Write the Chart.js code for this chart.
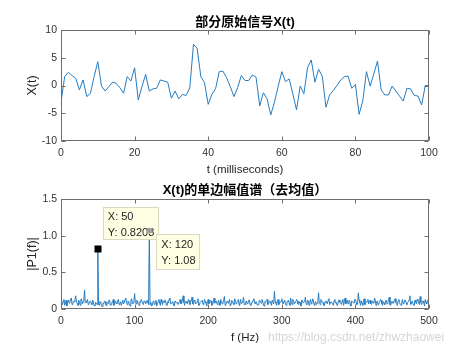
<!DOCTYPE html>
<html>
<head>
<meta charset="utf-8">
<script src="https://cdn.jsdelivr.net/npm/chart.js@4.4.1/dist/chart.umd.min.js"></script>
<style>
  html, body { margin: 0; padding: 0; background: #fff; }
  #wrap { position: relative; width: 474px; height: 355px; overflow: hidden; background: #fff; }
  #c1 { position: absolute; left: 0; top: 0; }
  #c2 { position: absolute; left: 0; top: 180px; }
  #wm { position: absolute; left: 268px; top: 330px; font: 12px "Liberation Sans", Arial, sans-serif; color: #d6d6d6; white-space: nowrap; }
</style>
</head>
<body>
<div id="wrap">
  <canvas id="c1" width="474" height="180"></canvas>
  <canvas id="c2" width="474" height="175"></canvas>
  <div id="wm">https://blog.csdn.net/zhwzhaowei</div>
</div>
<script>
// ---------- data ----------
const topTitle = '部分原始信号X(t)';
const bottomTitle = 'X(t)的单边幅值谱（去均值）';
const topXLabel = 't (milliseconds)';
const topYLabel = 'X(t)';
const bottomXLabel = 'f (Hz)';
const bottomYLabel = '|P1(f)|';

// signal samples, one per millisecond, t = 0..100
const signalValues = [
  -3.0, 1.6, 2.4, 1.8, 1.3, -0.8, 1.0, -2.0, -1.4, 1.6,
  4.3, -0.1, -1.0, -0.2, 0.6, 0.4, -0.4, -1.4, 1.6, 0.8,
  3.2, -2.6, -0.2, 2.0, -1.0, -0.6, -0.5, 1.0, 0.8, 0.6,
  -2.3, -1.0, -2.4, -1.6, -1.8, -0.4, 7.4, 6.7, 1.6, 0.5,
  -3.4, -1.6, -0.6, 2.5, 2.6, 1.4, -0.2, -2.0, -0.4, 1.8,
  0.9, 0.9, 1.9, 1.5, -3.7, -1.3, -2.4, -5.3, -3.0, -0.2,
  2.5, 0.7, 1.2, -1.5, -4.4, -0.1, -1.5, 3.2, 4.6, 0.6,
  2.9, 1.7, -3.9, -1.7, -0.9, 0.0, 1.0, 1.6, 1.7, -0.5,
  0.2, -5.2, -2.8, 2.5, -0.1, 2.1, 4.4, -0.8, -1.7, -1.7,
  -0.1, -1.0, -1.9, -2.8, -0.5, -0.6, -1.8, -1.9, -3.5, 0.0,
  0.0
];
const signalStepMs = 1;

// single-sided amplitude spectrum, one value per Hz, f = 0..500
const spectrumValues = [
  .11,.07,.06,.10,.13,.05,.08,.12,.04,.09,
  .12,.08,.09,.14,.15,.06,.07,.11,.10,.13,
  .18,.09,.08,.05,.12,.10,.05,.13,.14,.07,
  .10,.12,.26,.08,.09,.11,.13,.06,.07,.10,
  .11,.08,.06,.12,.10,.05,.04,.09,.08,.06,
  .8203,.07,.05,.10,.09,.04,.03,.08,.07,.11,
  .10,.06,.04,.09,.08,.12,.12,.05,.06,.09,
  .09,.13,.05,.07,.11,.08,.07,.12,.13,.06,
  .08,.10,.05,.09,.12,.07,.09,.13,.15,.08,
  .06,.11,.10,.05,.04,.12,.14,.07,.08,.10,
  .21,.09,.07,.12,.11,.06,.05,.10,.09,.13,
  .13,.08,.06,.11,.10,.07,.08,.12,.12,.06,
  1.08,.06,.09,.04,.05,.10,.11,.06,.07,.12,
  .04,.08,.10,.13,.08,.05,.13,.09,.06,.11,
  .09,.12,.12,.06,.05,.10,.08,.14,.15,.07,
  .07,.09,.10,.05,.04,.11,.11,.08,.09,.06,
  .06,.10,.13,.07,.08,.12,.18,.09,.05,.11,
  .10,.08,.07,.13,.12,.06,.09,.11,.16,.07,
  .06,.12,.11,.07,.08,.10,.14,.05,.05,.09,
  .09,.11,.12,.06,.07,.13,.10,.08,.04,.09,
  .13,.07,.08,.12,.11,.05,.06,.10,.15,.08,
  .09,.11,.07,.06,.12,.09,.05,.13,.10,.07,
  .08,.12,.17,.05,.06,.10,.11,.08,.09,.13,
  .04,.07,.12,.10,.08,.06,.14,.11,.07,.09,
  .10,.13,.05,.08,.13,.07,.09,.11,.16,.06,
  .06,.10,.11,.07,.08,.12,.12,.06,.05,.09,
  .09,.12,.14,.08,.07,.10,.10,.05,.06,.11,
  .12,.09,.08,.13,.11,.05,.04,.10,.09,.12,
  .13,.06,.07,.11,.10,.08,.05,.12,.12,.07,
  .24,.10,.08,.05,.11,.13,.06,.09,.09,.11,
  .14,.08,.07,.11,.12,.06,.05,.10,.10,.12,
  .08,.05,.15,.09,.06,.13,.11,.07,.09,.10,
  .13,.11,.07,.06,.10,.09,.04,.12,.12,.08,
  .08,.10,.16,.07,.06,.12,.11,.05,.09,.13,
  .07,.09,.14,.11,.05,.08,.10,.06,.08,.12,
  .22,.07,.06,.13,.12,.09,.09,.05,.05,.10,
  .11,.08,.07,.12,.14,.06,.08,.10,.10,.07,
  .05,.11,.13,.08,.09,.05,.06,.12,.12,.09,
  .08,.06,.11,.13,.05,.10,.15,.07,.09,.12,
  .07,.10,.12,.06,.04,.11,.10,.09,.08,.13,
  .13,.09,.06,.07,.22,.12,.09,.05,.11,.08,
  .05,.12,.14,.06,.08,.10,.10,.13,.07,.09,
  .12,.07,.06,.11,.09,.08,.15,.12,.05,.10,
  .11,.06,.08,.09,.13,.12,.07,.05,.10,.08,
  .06,.11,.12,.07,.09,.13,.16,.06,.05,.10,
  .10,.08,.08,.12,.14,.09,.07,.05,.11,.13,
  .09,.06,.05,.10,.13,.07,.08,.12,.12,.08,
  .06,.09,.10,.13,.18,.06,.07,.11,.11,.05,
  .05,.12,.09,.07,.13,.11,.08,.06,.17,.09,
  .06,.10,.11,.08,.04,.13,.09,.07,.12,.10,
  .08
];
const spectrumStepHz = 1;

// data tips
const tipFreqs = [50, 120];
const tipAmps = ['0.8203', '1.08'];

// tick labels
const topXTicks = [0, 20, 40, 60, 80, 100];
const topYTicks = [-10, -5, 0, 5, 10];
const bottomXTicks = [0, 100, 200, 300, 400, 500];
const bottomYTicks = [0, 0.5, 1, 1.5];

// ---------- helpers ----------
const LINE = 'rgb(36,124,194)';
const TICKCOL = '#333333';
const FONT = '"Liberation Sans", Arial, "Noto Sans CJK SC", sans-serif';

const boxPlugin = {
  id: 'matlabBox',
  afterDraw(chart, args, opts) {
    const { ctx, chartArea: a, scales } = chart;
    ctx.save();
    const L = Math.round(a.left) + 0.5, R = Math.round(a.right) - 0.5;
    const T = Math.round(a.top) + 0.5, B = Math.round(a.bottom) - 0.5;
    ctx.strokeStyle = '#6e6e6e';
    ctx.lineWidth = 1;
    ctx.strokeRect(L, T, R - L, B - T);
    const len = 4;
    ctx.beginPath();
    scales.x.ticks.forEach(t => {
      const px = Math.round(scales.x.getPixelForValue(t.value)) + 0.5;
      ctx.moveTo(px, B); ctx.lineTo(px, B - len);
      ctx.moveTo(px, T); ctx.lineTo(px, T + len);
    });
    scales.y.ticks.forEach(t => {
      const py = Math.round(scales.y.getPixelForValue(t.value)) + 0.5;
      ctx.moveTo(L, py); ctx.lineTo(L + len, py);
      ctx.moveTo(R, py); ctx.lineTo(R - len, py);
    });
    ctx.stroke();
    ctx.fillStyle = '#000';
    ctx.font = 'bold 13px "Liberation Sans", "Noto Sans CJK SC", sans-serif';
    ctx.textAlign = 'center';
    ctx.textBaseline = 'middle';
    ctx.fillText(opts.text, (a.left + a.right) / 2, a.top - opts.offset);
    ctx.restore();
  }
};

function drawTip(ctx, x, y, lines, h, off) {
  ctx.font = '11px ' + FONT;
  const w = Math.max(...lines.map(l => ctx.measureText(l).width)) + 10;
  ctx.fillStyle = 'rgba(255,255,226,0.97)';
  ctx.fillRect(x, y, w, h);
  ctx.strokeStyle = '#d9d9c4';
  ctx.lineWidth = 1;
  ctx.strokeRect(Math.round(x) + 0.5, Math.round(y) + 0.5, Math.round(w) - 1, h - 1);
  ctx.fillStyle = '#1e1e1e';
  ctx.textAlign = 'left';
  ctx.textBaseline = 'middle';
  lines.forEach((l, i) => ctx.fillText(l, x + 5, y + off + i * 15.5));
}

const tipPlugin = {
  id: 'dataTips',
  afterDraw(chart) {
    const { ctx, scales } = chart;
    const p = tipFreqs.map((f, i) => ({
      x: scales.x.getPixelForValue(f),
      y: scales.y.getPixelForValue(parseFloat(tipAmps[i]))
    }));
    ctx.save();
    drawTip(ctx, p[0].x + 5, p[0].y - 42, ['X: ' + tipFreqs[0], 'Y: ' + tipAmps[0]], 33, 10.5);
    ctx.fillStyle = '#a0a0a0';
    ctx.fillRect(Math.round(p[1].x) - 2, Math.round(p[1].y) - 2, 5, 5);
    drawTip(ctx, p[1].x + 7, p[1].y + 4, ['X: ' + tipFreqs[1], 'Y: ' + tipAmps[1]], 36, 11.5);
    ctx.fillStyle = '#000';
    ctx.fillRect(Math.round(p[0].x) - 3.5, Math.round(p[0].y) - 3.5, 7, 7);
    ctx.restore();
  }
};

function makeOptions(cfg) {
  return {
    responsive: false,
    animation: false,
    events: [],
    layout: { padding: { left: 0, right: 45, top: cfg.top, bottom: 0 } },
    plugins: {
      legend: { display: false },
      tooltip: { enabled: false },
      title: { display: false },
      matlabBox: { text: cfg.title, offset: cfg.titleOffset }
    },
    scales: {
      x: {
        type: 'linear',
        min: cfg.xTicks[0], max: cfg.xTicks[cfg.xTicks.length - 1],
        afterBuildTicks: s => { s.ticks = cfg.xTicks.map(v => ({ value: v })); },
        afterFit: s => { s.height = cfg.xHeight; },
        grid: { display: false, drawTicks: false },
        border: { display: false },
        ticks: { padding: 6, color: TICKCOL, font: { family: FONT, size: 10.5 }, maxRotation: 0, autoSkip: false },
        title: { display: true, text: cfg.xLabel, color: '#262626', font: { family: FONT, size: 11.5 }, padding: { top: 0, bottom: cfg.xTitlePad } }
      },
      y: {
        type: 'linear',
        min: cfg.yTicks[0], max: cfg.yTicks[cfg.yTicks.length - 1],
        afterBuildTicks: s => { s.ticks = cfg.yTicks.map(v => ({ value: v })); },
        afterFit: s => { s.width = 61; },
        grid: { display: false, drawTicks: false },
        border: { display: false },
        ticks: { padding: 4, color: TICKCOL, font: { family: FONT, size: 10.5 }, autoSkip: false },
        title: { display: true, text: cfg.yLabel, color: '#262626', font: { family: FONT, size: 12.5 }, padding: { top: 25, bottom: 0 } }
      }
    }
  };
}

// ---------- chart 1 ----------
new Chart(document.getElementById('c1'), {
  type: 'line',
  data: {
    datasets: [{
      data: signalValues.map((v, i) => ({ x: i * signalStepMs, y: v })),
      borderColor: LINE, borderWidth: 1, pointRadius: 0, tension: 0, fill: false
    }]
  },
  options: makeOptions({
    top: 30, title: topTitle, titleOffset: 7.5,
    xTicks: topXTicks, yTicks: topYTicks, xHeight: 39, xTitlePad: 3,
    xLabel: topXLabel, yLabel: topYLabel
  }),
  plugins: [boxPlugin]
});

// ---------- chart 2 ----------
new Chart(document.getElementById('c2'), {
  type: 'line',
  data: {
    datasets: [{
      data: spectrumValues.map((v, i) => ({ x: i * spectrumStepHz, y: v })),
      borderColor: LINE, borderWidth: 1, pointRadius: 0, tension: 0, fill: false
    }]
  },
  options: makeOptions({
    top: 19, title: bottomTitle, titleOffset: 9,
    xTicks: bottomXTicks, yTicks: bottomYTicks, xHeight: 46, xTitlePad: 10,
    xLabel: bottomXLabel, yLabel: bottomYLabel
  }),
  plugins: [boxPlugin, tipPlugin]
});
</script>
</body>
</html>
